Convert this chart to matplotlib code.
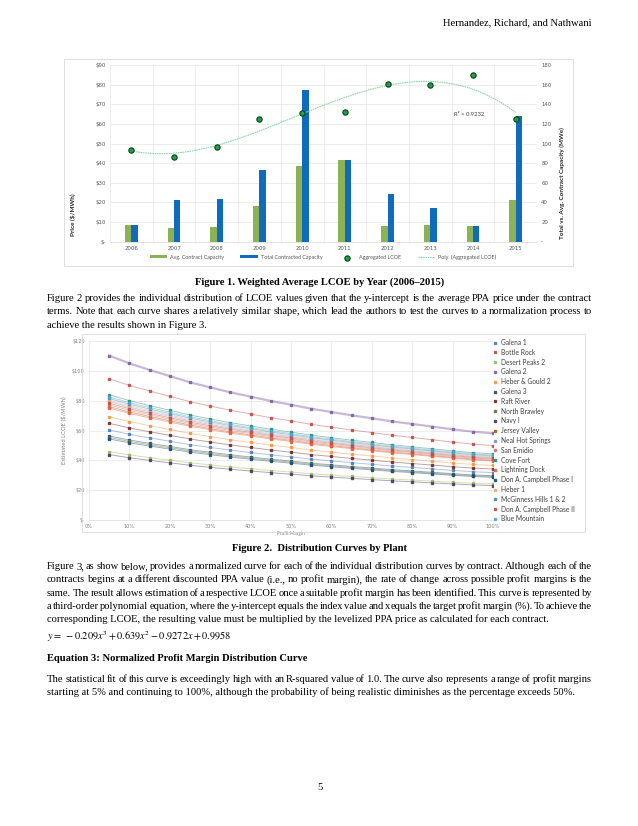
import numpy as np
import matplotlib
matplotlib.use("Agg")
import matplotlib.pyplot as plt
from matplotlib.patches import Rectangle

W, H = 638, 826

# ---- Figure 1 data ----
years = ["2006", "2007", "2008", "2009", "2010", "2011", "2012", "2013", "2014", "2015"]
avg_capacity = [17, 13.6, 14.6, 36.3, 77, 83, 16, 17, 16, 42.5]
total_capacity = [17, 42, 43, 73, 154.5, 83, 48.2, 34.6, 16, 128]
agg_lcoe = [46.7, 43.0, 48.4, 62.6, 65.7, 66.2, 80.5, 79.8, 84.9, 62.3]
price_ticks = ["$-", "$10", "$20", "$30", "$40", "$50", "$60", "$70", "$80", "$90"]
cap_ticks = ["-", "20", "40", "60", "80", "100", "120", "140", "160", "180"]

# ---- Figure 2 data ----
margin_pct = [5, 10, 15, 20, 25, 30, 35, 40, 45, 50, 55, 60, 65, 70, 75, 80, 85, 90, 95, 100]
# top curve, used as the common shape of all curves
top_curve = [110.2, 105.0, 100.6, 96.5, 92.3, 88.9, 85.6, 82.7, 79.8, 77.3,
             74.6, 72.4, 70.2, 68.2, 66.1, 64.4, 62.6, 60.8, 59.2, 58.1]
plants = ["Galena 1", "Bottle Rock", "Desert Peaks 2", "Galena 2", "Heber & Gould 2",
          "Galena 3", "Raft River", "North Brawley", "Navy I", "Jersey Valley",
          "Neal Hot Springs", "San Emidio", "Cove Fort", "Lightning Dock",
          "Don A. Campbell Phase I", "Heber 1", "McGinness Hills 1 & 2",
          "Don A. Campbell Phase II", "Blue Mountain"]
start_lcoe = [60.3, 94.7, 45.8, 110.2, 69.3, 56.3, 64.8, 55.3, 43.8, 76.0,
              79.4, 77.2, 84.0, 75.0, 54.3, 80.4, 81.5, 78.3, 82.6]
plant_colors = ["#4F81BD", "#C0504D", "#9BBB59", "#8064A2", "#F79646", "#2C4D75",
                "#772C2A", "#5F7530", "#4D3B62", "#B65708", "#729ACA", "#CD7371",
                "#2E8B7A", "#E8603C", "#1F4E79", "#F9AB6B", "#4F81BD", "#C0504D",
                "#4BACC6"]
lcoe_ticks = ["$-", "$20", "$40", "$60", "$80", "$100", "$120"]
margin_ticks = ["0%", "10%", "20%", "30%", "40%", "50%", "60%", "70%", "80%", "90%", "100%"]


def fx(px):
    return px / W


def fy(py):
    return (H - py) / H


plt.rcParams["mathtext.fontset"] = "stix"
fig = plt.figure(figsize=(W / 100, H / 100), dpi=100)
fig.patch.set_facecolor("white")
SERIF = "Liberation Serif"
SANS = "Lato"
TXT = 7.6

renderer = fig.canvas.get_renderer()


def paragraph(lines, x0, x1, y0, dy, size=TXT):
    # justified lines, last one left aligned
    for i, line in enumerate(lines):
        y = y0 + i * dy
        if i == len(lines) - 1:
            fig.text(fx(x0), fy(y), line, family=SERIF, fontsize=size, va="baseline")
            continue
        words = line.split()
        widths = []
        for w in words:
            t = fig.text(0, 0, w, family=SERIF, fontsize=size)
            widths.append(t.get_window_extent(renderer).width)
            t.remove()
        gap = (x1 - x0 - sum(widths)) / (len(words) - 1)
        x = x0
        for w, wd in zip(words, widths):
            fig.text(fx(x), fy(y), w, family=SERIF, fontsize=size, va="baseline")
            x += wd + gap


fig.text(fx(592), fy(25), "Hernandez, Richard, and Nathwani", family=SERIF,
         fontsize=TXT, ha="right", va="baseline")

# ---------------- Figure 1 ----------------
fig.patches.append(Rectangle((fx(64), fy(266)), 509 / W, 207 / H, transform=fig.transFigure,
                             fill=False, edgecolor="#D9D9D9", linewidth=0.6))
ax = fig.add_axes([fx(110), fy(241.7), 427 / W, 176.7 / H])
ax2 = ax.twinx()

x = np.arange(len(years))
bw = 0.15
ax.bar(x - bw / 2, avg_capacity, bw, color="#8DB255", label="Avg. Contract Capacity", zorder=2)
ax.bar(x + bw / 2, total_capacity, bw, color="#0F6CBD", label="Total Contracted Capacity", zorder=2)
ax.set_ylim(0, 180)
ax.set_xlim(-0.5, len(years) - 0.5)
ax.set_yticks(np.arange(0, 181, 20))
ax.set_yticklabels(cap_ticks)
ax.yaxis.tick_right()
ax.set_xticks(x)
ax.set_xticklabels(years)
ax.set_xticks(np.arange(-0.5, len(years)), minor=True)
ax.grid(True, which="minor", axis="x", color="#E6E6E6", linewidth=0.5)
ax.grid(True, which="major", axis="y", color="#E6E6E6", linewidth=0.5)
ax.tick_params(axis="both", which="both", length=0, labelsize=3.9, colors="#595959", pad=3)
for s in ax.spines.values():
    s.set_visible(False)
ax.spines["bottom"].set_visible(True)
ax.spines["bottom"].set_color("#D9D9D9")
ax.spines["bottom"].set_linewidth(0.5)

ax2.set_ylim(0, 90)
ax2.set_yticks(np.arange(0, 91, 10))
ax2.set_yticklabels(price_ticks)
ax2.yaxis.tick_left()
ax2.tick_params(axis="y", length=0, labelsize=3.9, colors="#595959", pad=3)
for s in ax2.spines.values():
    s.set_visible(False)
ax2.scatter(x, agg_lcoe, s=14, facecolor="#26A047", edgecolor="#0D4A1E", linewidth=0.9,
            zorder=4, label="Aggregated LCOE")
coef = np.polyfit(x, agg_lcoe, 3)
xs = np.linspace(0, len(years) - 1, 200)
ax2.plot(xs, np.polyval(coef, xs), color="#8ED6AB", linewidth=0.8, linestyle=(0, (1.5, 0.6)),
         zorder=3, label="Poly. (Aggregated LCOE)")
ax2.text(7.9, 65, "R² = 0.9232", fontsize=4.2, family=SANS, color="#404040", ha="center", va="center")

fig.text(fx(73), fy(215), "Price ($/MWh)", rotation=90, fontsize=4.6, fontweight="bold",
         family=SANS, ha="center", va="center", color="#262626")
fig.text(fx(562), fy(183), "Total vs. Avg. Contract Capacity (MWe)", rotation=90, fontsize=4.6,
         fontweight="bold", family=SANS, ha="center", va="center", color="#262626")

h1, l1 = ax.get_legend_handles_labels()
h2, l2 = ax2.get_legend_handles_labels()
fig.legend(h1 + h2, l1 + l2, loc="center", bbox_to_anchor=(fx(323), fy(257)), ncol=4,
           frameon=False, prop={"family": SANS, "size": 3.9}, labelcolor="#595959",
           handlelength=3.2, handleheight=0.5, columnspacing=3.0, handletextpad=0.6)

fig.text(fx(320), fy(285), "Figure 1. Weighted Average LCOE by Year (2006–2015)", family=SERIF,
         fontsize=TXT, fontweight="bold", ha="center", va="baseline")

paragraph([
    "Figure 2 provides the individual distribution of LCOE values given that the y-intercept is the average PPA price under the contract",
    "terms. Note that each curve shares a relatively similar shape, which lead the authors to test the curves to a normalization process to",
    "achieve the results shown in Figure 3.",
], 47, 592, 301, 13.3)

# ---------------- Figure 2 ----------------
fig.patches.append(Rectangle((fx(82), fy(532)), 503 / W, 198 / H, transform=fig.transFigure,
                             fill=False, edgecolor="#D9D9D9", linewidth=0.6))
bx = fig.add_axes([fx(89), fy(520), 404 / W, 179 / H])
top = np.array(top_curve)
for name, start, col in zip(plants, start_lcoe, plant_colors):
    vals = start * top / top[0]
    lw = 1.6 if start > 100 else 0.7
    bx.plot(margin_pct, vals, color=col, alpha=0.45, linewidth=lw, zorder=2)
    bx.plot(margin_pct, vals, linestyle="none", marker="s", markersize=1.8, color=col,
            alpha=0.9, zorder=3, label=name)
bx.set_xlim(0, 100)
bx.set_ylim(0, 120)
bx.set_xticks(np.arange(0, 101, 10))
bx.set_xticklabels(margin_ticks)
bx.set_yticks(np.arange(0, 121, 20))
bx.set_yticklabels(lcoe_ticks)
bx.grid(True, color="#E6E6E6", linewidth=0.5)
bx.set_axisbelow(True)
bx.tick_params(axis="both", length=0, labelsize=3.6, colors="#7F7F7F", pad=3)
for s in bx.spines.values():
    s.set_visible(False)
bx.spines["bottom"].set_visible(True)
bx.spines["bottom"].set_color("#D9D9D9")
bx.spines["bottom"].set_linewidth(0.5)
bx.set_ylabel("Estimated LCOE ($/MWh)", fontsize=4.2, family=SANS, color="#7F7F7F", labelpad=4)
bx.set_xlabel("Profit Margin", fontsize=3.4, family=SANS, color="#7F7F7F", labelpad=1)
bx.legend(loc="upper left", bbox_to_anchor=(fx(493), fy(339)), bbox_transform=fig.transFigure,
          frameon=False, prop={"family": SANS, "size": 4.8}, labelcolor="#404040",
          handlelength=0.6, handletextpad=0.6, labelspacing=0.42, borderaxespad=0,
          borderpad=0)

fig.text(fx(320), fy(551), "Figure 2.  Distribution Curves by Plant", family=SERIF,
         fontsize=TXT, fontweight="bold", ha="center", va="baseline")

paragraph([
    "Figure 3, as show below, provides a normalized curve for each of the individual distribution curves by contract. Although each of the",
    "contracts begins at a different discounted PPA value (i.e., no profit margin), the rate of change across possible profit margins is the",
    "same. The result allows estimation of a respective LCOE once a suitable profit margin has been identified. This curve is represented by",
    "a third-order polynomial equation, where the y-intercept equals the index value and x equals the target profit margin (%). To achieve the",
    "corresponding LCOE, the resulting value must be multiplied by the levelized PPA price as calculated for each contract.",
], 47, 592, 569, 13.3)

fig.text(fx(47), fy(640), r"$y =\ -0.209x^3 + 0.639x^2 - 0.9272x + 0.9958$", fontsize=7.4,
         va="baseline")
fig.text(fx(47), fy(661), "Equation 3: Normalized Profit Margin Distribution Curve", family=SERIF,
         fontsize=TXT, fontweight="bold", va="baseline")

paragraph([
    "The statistical fit of this curve is exceedingly high with an R-squared value of 1.0. The curve also represents a range of profit margins",
    "starting at 5% and continuing to 100%, although the probability of being realistic diminishes as the percentage exceeds 50%.",
], 47, 592, 682, 13.3)

fig.text(fx(320), fy(790), "5", family=SERIF, fontsize=TXT, ha="center", va="baseline")

fig.savefig("out.png", dpi=100, facecolor="white")
